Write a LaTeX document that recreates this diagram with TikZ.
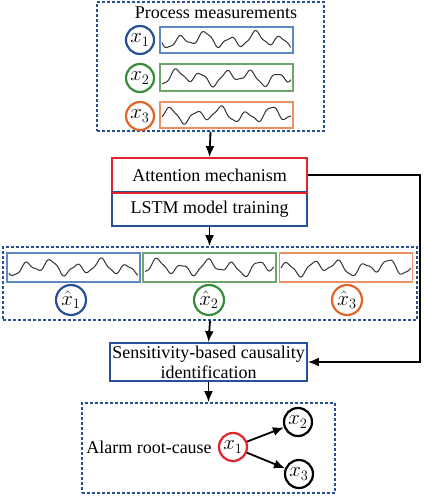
\documentclass[tikz,border=0pt]{standalone}
\usepackage{fontspec}
\setmainfont{Liberation Serif}
\usetikzlibrary{arrows.meta}

\definecolor{dblue}{RGB}{40,80,150}
\definecolor{lblue}{RGB}{95,135,195}
\definecolor{dgreen}{RGB}{55,140,60}
\definecolor{lgreen}{RGB}{110,165,105}
\definecolor{dorange}{RGB}{225,100,40}
\definecolor{lorange}{RGB}{235,145,100}
\definecolor{dred}{RGB}{225,35,45}

\tikzset{
  txt/.style={font=\fontsize{18}{21}\selectfont, inner sep=0pt},
  dbox/.style={draw=dblue, line width=1.8pt, dash pattern=on 3pt off 2pt, inner sep=0pt},
  sbox/.style={draw, line width=1.8pt, minimum width=195pt, minimum height=34pt, inner sep=0pt,
    font=\fontsize{18}{21}\selectfont},
  wbox/.style={draw=#1, line width=1.3pt, minimum width=133pt, inner sep=0pt},
  var/.style={circle, draw=#1, line width=2.2pt, minimum size=28pt, inner sep=0pt,
    font=\fontsize{22}{24}\selectfont},
  wave/.style={line width=1pt, black!80},
  arr/.style={line width=1.8pt, -{Latex[length=11pt,width=9pt]}}
}

% wave: left x, right x, middle y, phase
\newcommand{\sig}[4]{%
  \draw[wave] plot[smooth, domain=0:1, samples=120]
    ({#1+2+(#2-#1-4)*\x},
     {#3+5.5*sin(1850*\x+#4)+3*sin(820*\x+2*#4)+1.2*sin(4300*\x+3*#4)});}

\begin{document}
\begin{tikzpicture}[x=1pt, y=-1pt]

  \useasboundingbox (0,0) rectangle (425,500);

  % process measurements
  \node[dbox, minimum width=227pt, minimum height=129pt] (meas) at (210.5,66.5) {};
  \node[txt] (title) at (216,13) {Process measurements};

  \node[var=dblue] (m1) at (140,40) {$x_1$};
  \node[var=dgreen] (m2) at (140,78) {$x_2$};
  \node[var=dorange] (m3) at (140,116) {$x_3$};

  \node[wbox=lblue, minimum height=26pt] (w1) at (226.5,40) {};
  \node[wbox=lgreen, minimum height=27pt] (w2) at (226.5,77.5) {};
  \node[wbox=lorange, minimum height=26pt] (w3) at (226.5,115) {};
  \sig{160}{293}{40}{10}
  \sig{160}{293}{77.5}{70}
  \sig{160}{293}{115}{140}

  % model
  \node[sbox, draw=dred] (att) at (209.5,175) {Attention mechanism};
  \node[sbox, draw=dblue] (lstm) at (209.5,209) {LSTM model training};
  \draw[dred, line width=1.8pt] (att.south west) -- (att.south east);

  % predictions
  \node[dbox, minimum width=414pt, minimum height=73pt] (pred) at (210,283.5) {};
  \node[wbox=lblue, minimum height=29pt] (p1) at (73.5,267.5) {};
  \node[wbox=lgreen, minimum height=29pt] (p2) at (209.5,267.5) {};
  \node[wbox=lorange, minimum height=29pt] (p3) at (346,267.5) {};
  \sig{7}{140}{267.5}{25}
  \sig{143}{276}{267.5}{95}
  \sig{279}{413}{267.5}{170}

  \node[var=dblue, minimum size=30pt] (h1) at (71,300) {$\hat{x}_1$};
  \node[var=dgreen, minimum size=30pt] (h2) at (209,300) {$\hat{x}_2$};
  \node[var=dorange, minimum size=30pt] (h3) at (347,300) {$\hat{x}_3$};

  % causality
  \node[sbox, draw=dblue, minimum width=197pt, minimum height=38pt, align=center]
    (sens) at (208.5,362) {Sensitivity-based causality\\[-1pt]identification};

  % root cause
  \node[dbox, minimum width=253pt, minimum height=90pt] (root) at (208.5,448) {};
  \node[txt] (alarm) at (149,447) {Alarm root-cause};
  \node[var=dred] (r1) at (233,447) {$x_1$};
  \node[var=black] (r2) at (298,422) {$x_2$};
  \node[var=black] (r3) at (299,474) {$x_3$};

  \coordinate (fb) at (420,175);

  \draw[arr] (meas.south) -- (att.north);
  \draw[arr] (lstm.south) -- (lstm.south |- pred.north);
  \draw[arr] (pred.south) -- (sens.north);
  \draw[arr] (att.east) -- (fb) |- (sens.east);
  \draw[arr] (sens.south) -- (sens.south |- root.north);
  \draw[arr] (r1) -- (r2);
  \draw[arr] (r1) -- (r3);

\end{tikzpicture}
\end{document}
